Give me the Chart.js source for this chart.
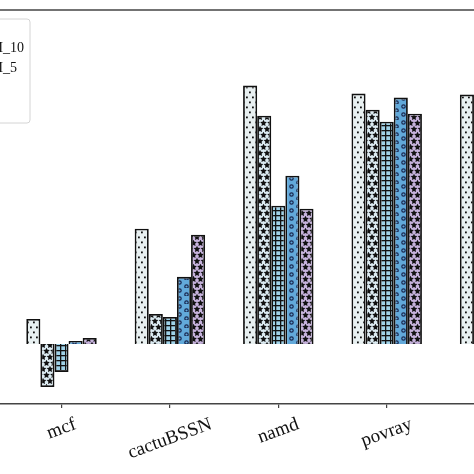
<!DOCTYPE html>
<html>
<head>
<meta charset="utf-8">
<script src="https://cdn.jsdelivr.net/npm/chart.js@4.4.0/dist/chart.umd.min.js"></script>
<style>
html, body { margin: 0; padding: 0; background: #fff; overflow: hidden; width: 474px; height: 474px; }
#wrap { position: absolute; left: -160px; top: 0; width: 800px; height: 474px; }
</style>
</head>
<body>
<div id="wrap"><canvas id="barChart"></canvas></div>
<script>
// categories (the 5th one is cut off at the right edge of the picture)
const categories = ['mcf', 'cactuBSSN', 'namd', 'povray', ''];
const seriesNames = ['Base', 'Opt-M_10', 'Opt-M_5', 'Opt', 'All'];

// values (arbitrary units)
const baseVals = [2.5, 11.5, 25.8, 25.0, 24.9];
const m10Vals = [-4.3, 3.0, 22.8, 23.4, null];
const m5Vals = [-2.8, 2.7, 13.8, 22.2, null];
const optVals = [0.3, 6.7, 16.8, 24.6, null];
const allVals = [0.6, 10.9, 13.5, 23.0, null];

const seriesValues = [baseVals, m10Vals, m5Vals, optVals, allVals];

// hatch patterns
function makePattern(bg, w, h, draw) {
  const c = document.createElement('canvas');
  c.width = w; c.height = h;
  const g = c.getContext('2d');
  g.fillStyle = bg;
  g.fillRect(0, 0, w, h);
  g.fillStyle = '#111';
  g.strokeStyle = '#111';
  draw(g);
  return g.createPattern(c, 'repeat');
}

function star(g, x, y, r) {
  g.beginPath();
  for (let k = 0; k < 10; k++) {
    const rad = k % 2 ? r * 0.48 : r;
    const a = -Math.PI / 2 + k * Math.PI / 5;
    g.lineTo(x + rad * Math.cos(a), y + rad * Math.sin(a));
  }
  g.closePath();
  g.fill();
}

function stars(g) {
  star(g, 3.5, 3.2, 3.5);
  star(g, 0, 9.2, 3.5);
  star(g, 7, 9.2, 3.5);
}

const fills = [
  makePattern('#e8f0f1', 6, 10, g => {
    g.fillRect(1, 1.5, 1.8, 1.8);
    g.fillRect(4, 6.5, 1.8, 1.8);
  }),
  makePattern('#dcebf2', 7, 12, stars),
  makePattern('#9fd2e8', 5, 5, g => {
    g.fillRect(0, 0, 5, 1.3);
    g.fillRect(0, 0, 1.3, 5);
  }),
  makePattern('#62a9da', 14, 8, g => {
    g.strokeStyle = '#1a2850';
    g.lineWidth = 1.2;
    g.beginPath(); g.arc(3.5, 2.5, 1.7, 0, Math.PI * 2); g.stroke();
    g.beginPath(); g.arc(10.5, 6.5, 1.7, 0, Math.PI * 2); g.stroke();
  }),
  makePattern('#c6b2dc', 7, 12, stars)
];

const serifFont = '"Liberation Serif", "Times New Roman", serif';

const decorations = {
  id: 'decorations',
  afterDraw(chart) {
    const { ctx, chartArea, scales } = chart;
    ctx.save();

    // top spine
    ctx.strokeStyle = '#444';
    ctx.lineWidth = 1.5;
    ctx.beginPath();
    ctx.moveTo(chartArea.left, chartArea.top);
    ctx.lineTo(chartArea.right, chartArea.top);
    ctx.stroke();

    // rotated category labels, centred under the ticks
    ctx.font = '19px ' + serifFont;
    ctx.fillStyle = '#111';
    ctx.textAlign = 'center';
    ctx.textBaseline = 'middle';
    const ang = 20 * Math.PI / 180;
    categories.forEach((c, i) => {
      if (!c) return;
      const w = ctx.measureText(c).width;
      const hRot = w * Math.sin(ang) + 21 * Math.cos(ang);
      const x = scales.x.getPixelForValue(i);
      const y = chartArea.bottom + 10 + hRot / 2;
      ctx.save();
      ctx.translate(x, y);
      ctx.rotate(-ang);
      ctx.fillText(c, 0, 0);
      ctx.restore();
    });

    // legend box in the upper left of the axes
    ctx.font = '14px ' + serifFont;
    ctx.textAlign = 'left';
    const items = chart.data.datasets;
    const maxW = Math.max(...items.map(d => ctx.measureText(d.label).width));
    const right = chartArea.left + 190;
    const top = chartArea.top + 9;
    const height = 104;
    const textX = right - 6 - maxW;
    const left = textX - 10 - 28 - 6;
    ctx.fillStyle = 'rgba(255,255,255,0.8)';
    ctx.strokeStyle = '#d4d4d4';
    ctx.lineWidth = 1;
    ctx.beginPath();
    ctx.roundRect(left, top, right - left, height, 3);
    ctx.fill();
    ctx.stroke();
    items.forEach((d, i) => {
      const cy = top + 9.5 + i * 20;
      ctx.fillStyle = d.backgroundColor;
      ctx.fillRect(left + 6, cy - 5, 28, 10);
      ctx.strokeStyle = '#111';
      ctx.strokeRect(left + 6, cy - 5, 28, 10);
      ctx.fillStyle = '#111';
      ctx.fillText(d.label, textX, cy);
    });

    ctx.restore();
  }
};

const ctx = document.getElementById('barChart');

new Chart(ctx, {
  type: 'bar',
  data: {
    datasets: seriesValues.map((vals, s) => ({
      label: seriesNames[s],
      data: vals.map((v, i) => ({ x: i, y: v })).filter(p => p.y !== null),
      backgroundColor: fills[s],
      borderColor: '#111',
      borderWidth: 1.8,
      categoryPercentage: 0.65,
      barPercentage: 1
    }))
  },
  options: {
    responsive: true,
    maintainAspectRatio: false,
    animation: false,
    layout: { padding: { top: 10, bottom: 66, left: 0, right: 0 } },
    plugins: {
      legend: { display: false },
      tooltip: { enabled: false }
    },
    scales: {
      x: {
        type: 'linear',
        min: -2.0434,
        max: 5.3367,
        offset: false,
        afterBuildTicks: sc => { sc.ticks = categories.map((c, i) => ({ value: i })); },
        ticks: { display: false },
        grid: { display: true, drawOnChartArea: false, drawTicks: true, tickLength: 4, color: '#444', lineWidth: 1.2, offset: false },
        border: { display: true, color: '#444', width: 1.5 }
      },
      y: {
        display: false,
        min: -6.0,
        max: 33.35
      }
    }
  },
  plugins: [decorations]
});
</script>
</body>
</html>
